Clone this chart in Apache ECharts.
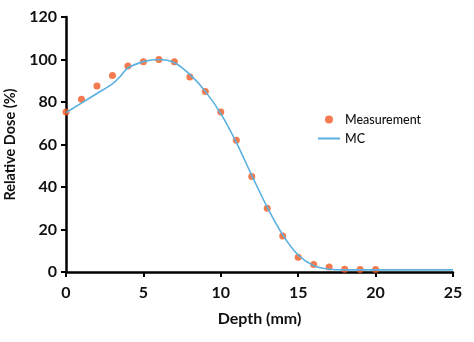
<!DOCTYPE html>
<html><head><meta charset="utf-8">
<script src="https://cdn.jsdelivr.net/npm/echarts@6/dist/echarts.min.js"></script>
<style>html,body{margin:0;padding:0;background:#fff}#c{width:474px;height:342px}</style>
</head><body><div id="c"></div>
<script>
const measDepth = [0,1,2,3,4,5,6,7,8,9,10,11,12,13,14,15,16,17,18,19,20];
const measDose = [75.3,81.3,87.5,92.5,97,99,100,99,91.8,85,75.3,62,45,30,17,7,3.5,2.3,1.3,1.2,1.2];
const mcDepth = [0,1,2,3,3.5,4,5,6,7,8,9,10,11,12,13,14,15,16,17,18,20,25];
const mcDose = [75,79.5,84,88.5,92,96,99,100,98.5,93,85,74.5,61,45.5,30.5,17.5,8,3,1.3,1,1,1];
const xTicks = [0,5,10,15,20,25];
const yTicks = [0,20,40,60,80,100,120];

const font = 'Lato, "Open Sans", sans-serif';
const chart = echarts.init(document.getElementById('c'), null, {renderer:'canvas'});
chart.setOption({
  animation:false,
  backgroundColor:'#fff',
  grid:{left:66,right:21,top:17,bottom:70,containLabel:false,outerBoundsMode:'none'},
  legend:{
    orient:'vertical', left:312, top:108, itemGap:6, itemWidth:22, itemHeight:8,
    textStyle:{fontFamily:font,fontSize:12.5,color:'#111',fontWeight:500},
    data:[{name:'Measurement',icon:'circle'},{name:'MC',itemStyle:{opacity:0}}]
  },
  xAxis:{
    type:'value', min:xTicks[0], max:xTicks[xTicks.length-1], interval:5,
    name:'Depth (mm)', nameLocation:'middle', nameGap:39,
    nameTextStyle:{fontFamily:font,fontSize:16,fontWeight:'bold',color:'#111'},
    axisLine:{show:true,lineStyle:{color:'#000',width:2.5}},
    axisTick:{show:true,length:5,lineStyle:{color:'#000',width:2}},
    axisLabel:{fontFamily:font,fontSize:16,fontWeight:'bold',color:'#111',margin:13},
    splitLine:{show:false}
  },
  yAxis:{
    type:'value', min:yTicks[0], max:yTicks[yTicks.length-1], interval:20,
    name:'Relative Dose (%)', nameLocation:'middle', nameGap:43, nameRotate:90,
    nameTextStyle:{fontFamily:font,fontSize:14.5,fontWeight:'bold',color:'#111'},
    axisLine:{show:true,lineStyle:{color:'#000',width:2.5}},
    axisTick:{show:true,length:5,lineStyle:{color:'#000',width:2}},
    axisLabel:{fontFamily:font,fontSize:16,fontWeight:'bold',color:'#111',margin:9},
    splitLine:{show:false}
  },
  series:[
    {name:'MC',type:'line',data:mcDepth.map((x,i)=>[x,mcDose[i]]),smooth:0.35,symbol:'none',
     lineStyle:{color:'#5ab0de',width:1.6},itemStyle:{color:'#5ab0de'},z:3},
    {name:'Measurement',type:'scatter',data:measDepth.map((x,i)=>[x,measDose[i]]),symbolSize:7,
     itemStyle:{color:'#f15a24'},z:2}
  ]
});
</script></body></html>
